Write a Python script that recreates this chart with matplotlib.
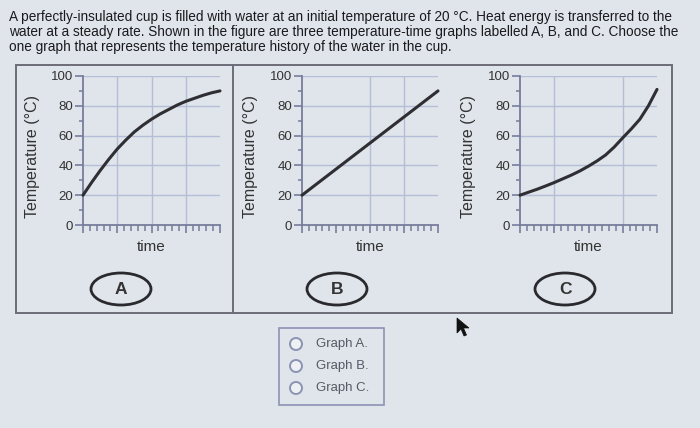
import numpy as np
import matplotlib
matplotlib.use('Agg')
import matplotlib.pyplot as plt
from matplotlib.patches import Ellipse, Circle, Rectangle, Polygon

plt.rcParams['font.family'] = ['Liberation Sans', 'DejaVu Sans']

W, H = 700, 428

title_lines = [
    'A perfectly-insulated cup is filled with water at an initial temperature of 20 °C. Heat energy is transferred to the',
    'water at a steady rate. Shown in the figure are three temperature-time graphs labelled A, B, and C. Choose the',
    'one graph that represents the temperature history of the water in the cup.',
]

# time in grid units (4 units across each graph)
t_a = [0, 0.25, 0.5, 0.75, 1, 1.25, 1.5, 1.75, 2, 2.25, 2.5, 2.75, 3, 3.25, 3.5, 3.75, 4]
temp_a = [20, 28.5, 36.5, 44, 51, 57, 62.5, 67, 71, 74.5, 77.5, 80.5, 83, 85, 87, 88.7, 90]
t_b = [0, 4]
temp_b = [20, 90]
t_c = [0, 0.25, 0.5, 0.75, 1, 1.25, 1.5, 1.75, 2, 2.25, 2.5, 2.75, 3, 3.25, 3.5, 3.75, 4]
temp_c = [20, 22, 24, 26.2, 28.5, 31, 33.5, 36.3, 39.5, 43, 47, 52.3, 58.5, 64.5, 71, 80, 91]

graph_labels = ['A', 'B', 'C']
vgrid = [[1, 2, 3], [2, 3], [1, 3]]
y_ticks = [0, 20, 40, 60, 80, 100]
choices = ['Graph A.', 'Graph B.', 'Graph C.']

bg = '#dfe5ea'
ink = '#2e2e33'
axcol = '#777c9c'
gridcol = '#b6bdd6'

fig = plt.figure(figsize=(W / 100, H / 100), dpi=100, facecolor=bg)

# overlay in pixel coordinates for the page elements
ov = fig.add_axes([0, 0, 1, 1], zorder=0)
ov.set_xlim(0, W)
ov.set_ylim(H, 0)
ov.axis('off')
ov.set_facecolor('none')

# title, fitted to the width of the first line
txts = []
for i, line in enumerate(title_lines):
    txts.append(ov.text(9, 17 + 15 * i, line, fontsize=10, color='#1a1a1e',
                        va='center', ha='left'))
fig.canvas.draw()
r = fig.canvas.get_renderer()
w0 = txts[0].get_window_extent(r).width
for tx in txts:
    tx.set_fontsize(10 * 662 / w0)

# panel frame
ov.add_patch(Rectangle((16, 65), 656, 248, fill=False, ec='#6c6c78', lw=1.4))
ov.plot([233, 233], [65, 313], color='#6c6c78', lw=1.4)

# charts
panels = [(83, 220, t_a, temp_a), (302, 438, t_b, temp_b), (520, 657, t_c, temp_c)]
ell_x = [121, 337, 565]
label_x = [32, 250, 468]
for k, (x0, x1, tt, yy) in enumerate(panels):
    top, bot = 76, 225
    ax = fig.add_axes([x0 / W, 1 - bot / H, (x1 - x0) / W, (bot - top) / H], zorder=2)
    ax.set_facecolor('none')
    ax.set_xlim(0, 4)
    ax.set_ylim(0, 100)
    for v in vgrid[k]:
        ax.axvline(v, color=gridcol, lw=1, zorder=1)
    for v in y_ticks[1:]:
        ax.axhline(v, color=gridcol, lw=1, zorder=1)
    ax.plot(tt, yy, color=ink, lw=2.2, zorder=3, solid_capstyle='round',
            solid_joinstyle='round', clip_on=False)
    for s in ['top', 'right']:
        ax.spines[s].set_visible(False)
    for s in ['left', 'bottom']:
        ax.spines[s].set_color(axcol)
        ax.spines[s].set_linewidth(1.3)
    ax.set_yticks(y_ticks)
    ax.set_yticks(np.arange(10, 100, 20), minor=True)
    ax.set_xticks([0, 1, 2, 3, 4])
    ax.set_xticks(np.arange(0, 4, 0.2), minor=True)
    ax.set_xticklabels([])
    ax.tick_params(axis='y', which='major', length=6, width=1.2, color=axcol,
                   labelsize=9.5, labelcolor='#333', pad=1)
    ax.tick_params(axis='y', which='minor', length=3, width=1.1, color=axcol)
    ax.tick_params(axis='x', which='major', length=6, width=1.2, color=axcol)
    ax.tick_params(axis='x', which='minor', length=4.5, width=1.1, color=axcol)
    ov.text((x0 + x1) / 2, 247, 'time', fontsize=11, color='#333', ha='center', va='center')
    ov.text(label_x[k], 157, 'Temperature (°C)', fontsize=11.5, color='#333',
            rotation=90, ha='center', va='center')
    ov.add_patch(Ellipse((ell_x[k], 289), 60, 32, fill=False, ec='#2a2a2e', lw=2))
    ov.text(ell_x[k], 290, graph_labels[k], fontsize=12.5, fontweight='bold',
            color='#333', ha='center', va='center')

# answer choices
ov.add_patch(Rectangle((279, 328), 105, 77, fill=False, ec='#8d93b3', lw=1.2))
for i, c in enumerate(choices):
    y = 344 + 22 * i
    ov.add_patch(Circle((296, y), 6, fc='#eef1f4', ec='#8d93b3', lw=1.4))
    ov.text(316, y, c, fontsize=9.5, color='#555a66', ha='left', va='center')

# mouse pointer
ov.add_patch(Polygon([(457, 318), (457, 333), (461, 329), (464, 336), (466.5, 335),
                      (463.5, 328), (469, 328)], closed=True, fc='#111', ec='#111', lw=0.5))

fig.savefig('out.png', dpi=100, facecolor=bg)
